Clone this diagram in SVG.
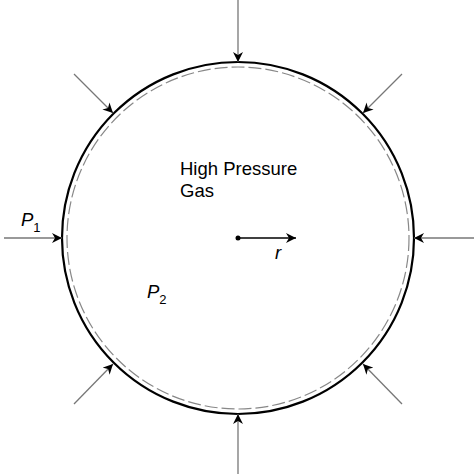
<svg xmlns="http://www.w3.org/2000/svg" width="474" height="474" viewBox="0 0 474 474">
<defs>
<marker id="ah" viewBox="0 0 10 10" refX="10" refY="5" markerWidth="10" markerHeight="10" markerUnits="userSpaceOnUse" orient="auto">
<path d="M0,0 L10,5 L0,10 L3,5 Z" fill="#000"/>
</marker>
</defs>
<style>
.arr{stroke:#777;stroke-width:1.3;fill:none;marker-end:url(#ah)}
.t{font-family:"Liberation Sans",Arial,sans-serif;font-size:18.5px;fill:#000}
.i{font-style:italic}
.s{font-size:13px}
</style>
<rect width="474" height="474" fill="#fff"/>
<g id="vessel">
<circle cx="238" cy="238" r="176" fill="none" stroke="#000" stroke-width="2.2"/>
<circle cx="238" cy="238" r="171" fill="none" stroke="#888" stroke-width="1.2" stroke-dasharray="13 4"/>
</g>
<g id="connectors">
<line class="arr" x1="238" y1="0" x2="238" y2="62"/>
<line class="arr" x1="238" y1="474" x2="238" y2="414"/>
<line class="arr" x1="4" y1="238" x2="62" y2="238"/>
<line class="arr" x1="474" y1="238" x2="414" y2="238"/>
<line class="arr" x1="74" y1="74" x2="113" y2="113"/>
<line class="arr" x1="402" y1="74" x2="363" y2="113"/>
<line class="arr" x1="74" y1="404" x2="113" y2="364"/>
<line class="arr" x1="402" y1="404" x2="363" y2="364"/>
<line x1="238" y1="238" x2="296" y2="238" stroke="#000" stroke-width="1.3" marker-end="url(#ah)"/>
</g>
<g id="center-dot"><circle cx="238" cy="238" r="2.5" fill="#000"/></g>
<g id="gas-label">
<text class="t" x="180" y="175">High Pressure</text>
<text class="t" x="180" y="197">Gas</text>
</g>
<g id="r-label"><text class="t i" x="275" y="259">r</text></g>
<g id="p1-label"><text class="t i" x="21" y="226">P<tspan class="s" font-style="normal" dy="6">1</tspan></text></g>
<g id="p2-label"><text class="t i" x="147" y="298">P<tspan class="s" font-style="normal" dy="6">2</tspan></text></g>
</svg>
